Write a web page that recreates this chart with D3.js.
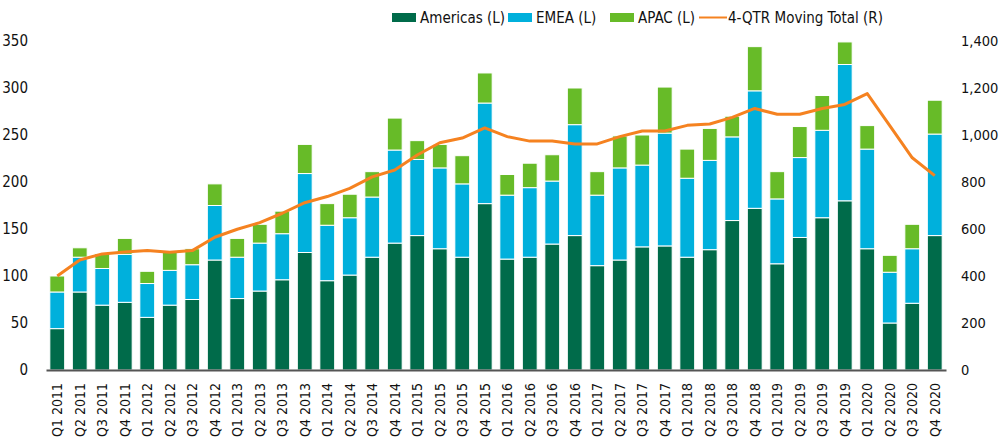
<!doctype html>
<html lang="en">
  <head>
    <meta charset="UTF-8" />
    <title>Regional Volumes with 4-QTR Moving Total</title>
    <script src="https://d3js.org/d3.v7.min.js"></script>
    <style>
      body {
        margin: 0;
        background: #fff;
      }
      svg text {
        font-family: 'DejaVu Sans', sans-serif;
        font-stretch: condensed;
        fill: #111;
      }
      .tick text {
        font-size: 15px;
      }
      .legend text {
        font-size: 15px;
      }
    </style>
  </head>
  <body>
    <svg id="chart" width="1000" height="441"></svg>

    <script>
      // Quarters
      const quarters = [
        'Q1 2011', 'Q2 2011', 'Q3 2011', 'Q4 2011',
        'Q1 2012', 'Q2 2012', 'Q3 2012', 'Q4 2012',
        'Q1 2013', 'Q2 2013', 'Q3 2013', 'Q4 2013',
        'Q1 2014', 'Q2 2014', 'Q3 2014', 'Q4 2014',
        'Q1 2015', 'Q2 2015', 'Q3 2015', 'Q4 2015',
        'Q1 2016', 'Q2 2016', 'Q3 2016', 'Q4 2016',
        'Q1 2017', 'Q2 2017', 'Q3 2017', 'Q4 2017',
        'Q1 2018', 'Q2 2018', 'Q3 2018', 'Q4 2018',
        'Q1 2019', 'Q2 2019', 'Q3 2019', 'Q4 2019',
        'Q1 2020', 'Q2 2020', 'Q3 2020', 'Q4 2020',
      ]

      // Left axis series (stacked bars)
      const americas = [
        44, 83, 69, 72, 56, 69, 75, 117, 76, 84, 96, 125,
        95, 101, 120, 135, 143, 129, 120, 177, 118, 120, 134, 143,
        111, 117, 131, 132, 120, 128, 159, 172, 113, 141, 162, 180,
        129, 50, 71, 143,
      ]
      const emea = [
        39, 37, 39, 51, 36, 37, 37, 58, 44, 51, 49, 84,
        59, 61, 64, 99, 81, 86, 78, 107, 68, 74, 67, 118,
        75, 98, 87, 120, 84, 95, 89, 125, 69, 85, 93, 145,
        106, 54, 58, 108,
      ]
      const apac = [
        17, 10, 16, 17, 13, 19, 17, 23, 20, 20, 24, 31,
        23, 25, 27, 34, 20, 25, 30, 32, 22, 26, 28, 39,
        25, 34, 32, 49, 31, 34, 22, 47, 29, 33, 37, 24,
        25, 18, 26, 36,
      ]

      // Right axis series (line)
      const movingTotal = [
        400, 468, 494, 502, 508, 501, 508, 565, 599, 627, 667, 712,
        738, 773, 822, 851, 915, 967, 987, 1030, 993, 974, 974, 962,
        962, 993, 1017, 1017, 1041, 1047, 1075, 1113, 1088, 1088, 1113, 1130,
        1176, 1040, 903, 827,
      ]

      const leftTicks = [0, 50, 100, 150, 200, 250, 300, 350]
      const rightTicks = [0, 200, 400, 600, 800, 1000, 1200, 1400]

      const seriesNames = ['Americas (L)', 'EMEA (L)', 'APAC (L)']
      const lineName = '4-QTR Moving Total (R)'
      const colors = ['#006b4a', '#00b0dc', '#67bb28']
      const lineColor = '#f58220'

      const svg = d3.select('#chart')
      const margin = { top: 41, right: 54, bottom: 71, left: 46 }
      const width = 1000 - margin.left - margin.right
      const height = 441 - margin.top - margin.bottom

      const g = svg.append('g').attr('transform', `translate(${margin.left},${margin.top})`)

      const x = d3.scaleBand().domain(quarters).range([0, width]).paddingInner(0.34).paddingOuter(0.17)
      const yL = d3.scaleLinear().domain([0, 350]).range([height, 0])
      const yR = d3.scaleLinear().domain([0, 1400]).range([height, 0])

      // Build stack table
      const table = quarters.map((q, i) => ({ q, a: americas[i], e: emea[i], p: apac[i] }))
      const stacked = d3.stack().keys(['a', 'e', 'p'])(table)

      g.selectAll('.series')
        .data(stacked)
        .enter()
        .append('g')
        .attr('fill', (d, i) => colors[i])
        .selectAll('rect')
        .data((d) => d)
        .enter()
        .append('rect')
        .attr('x', (d) => x(d.data.q))
        .attr('y', (d) => yL(d[1]))
        .attr('width', x.bandwidth())
        .attr('height', (d) => yL(d[0]) - yL(d[1]))
        .attr('stroke', '#fff')
        .attr('stroke-width', 1)

      // Line
      const line = d3
        .line()
        .x((d, i) => x(quarters[i]) + x.bandwidth() / 2)
        .y((d) => yR(d))

      g.append('path')
        .datum(movingTotal)
        .attr('fill', 'none')
        .attr('stroke', lineColor)
        .attr('stroke-width', 3)
        .attr('stroke-linejoin', 'round')
        .attr('d', line)

      // Left axis
      const leftAxis = g.append('g').call(d3.axisLeft(yL).tickValues(leftTicks).tickSize(0).tickPadding(18))
      leftAxis.select('.domain').remove()

      // Right axis
      const rightAxis = g
        .append('g')
        .attr('transform', `translate(${width},0)`)
        .call(
          d3.axisRight(yR).tickValues(rightTicks).tickSize(0).tickPadding(15).tickFormat(d3.format(','))
        )
      rightAxis.select('.domain').remove()
      rightAxis.selectAll('text').style('font-size', '14.5px')

      // Bottom axis
      const bottomAxis = g
        .append('g')
        .attr('transform', `translate(0,${height})`)
        .call(d3.axisBottom(x).tickSize(0))
      bottomAxis.select('.domain').attr('stroke', '#555').attr('stroke-width', 2)
      bottomAxis
        .selectAll('text')
        .attr('transform', 'rotate(-90)')
        .attr('x', -13)
        .attr('y', 0)
        .attr('dy', '0.35em')
        .style('text-anchor', 'end')
        .style('font-size', '14px')

      // Legend
      const legend = svg.append('g').attr('class', 'legend')
      const legendX = [392, 508, 610]
      seriesNames.forEach((name, i) => {
        legend
          .append('rect')
          .attr('x', legendX[i])
          .attr('y', 13)
          .attr('width', 24)
          .attr('height', 9)
          .attr('fill', colors[i])
        legend
          .append('text')
          .attr('x', legendX[i] + 28)
          .attr('y', 18)
          .attr('dy', '0.35em')
          .text(name)
      })
      legend
        .append('line')
        .attr('x1', 699)
        .attr('x2', 727)
        .attr('y1', 17.5)
        .attr('y2', 17.5)
        .attr('stroke', lineColor)
        .attr('stroke-width', 2)
      legend
        .append('text')
        .attr('x', 728)
        .attr('y', 18)
        .attr('dy', '0.35em')
        .text(lineName)
    </script>
  </body>
</html>
